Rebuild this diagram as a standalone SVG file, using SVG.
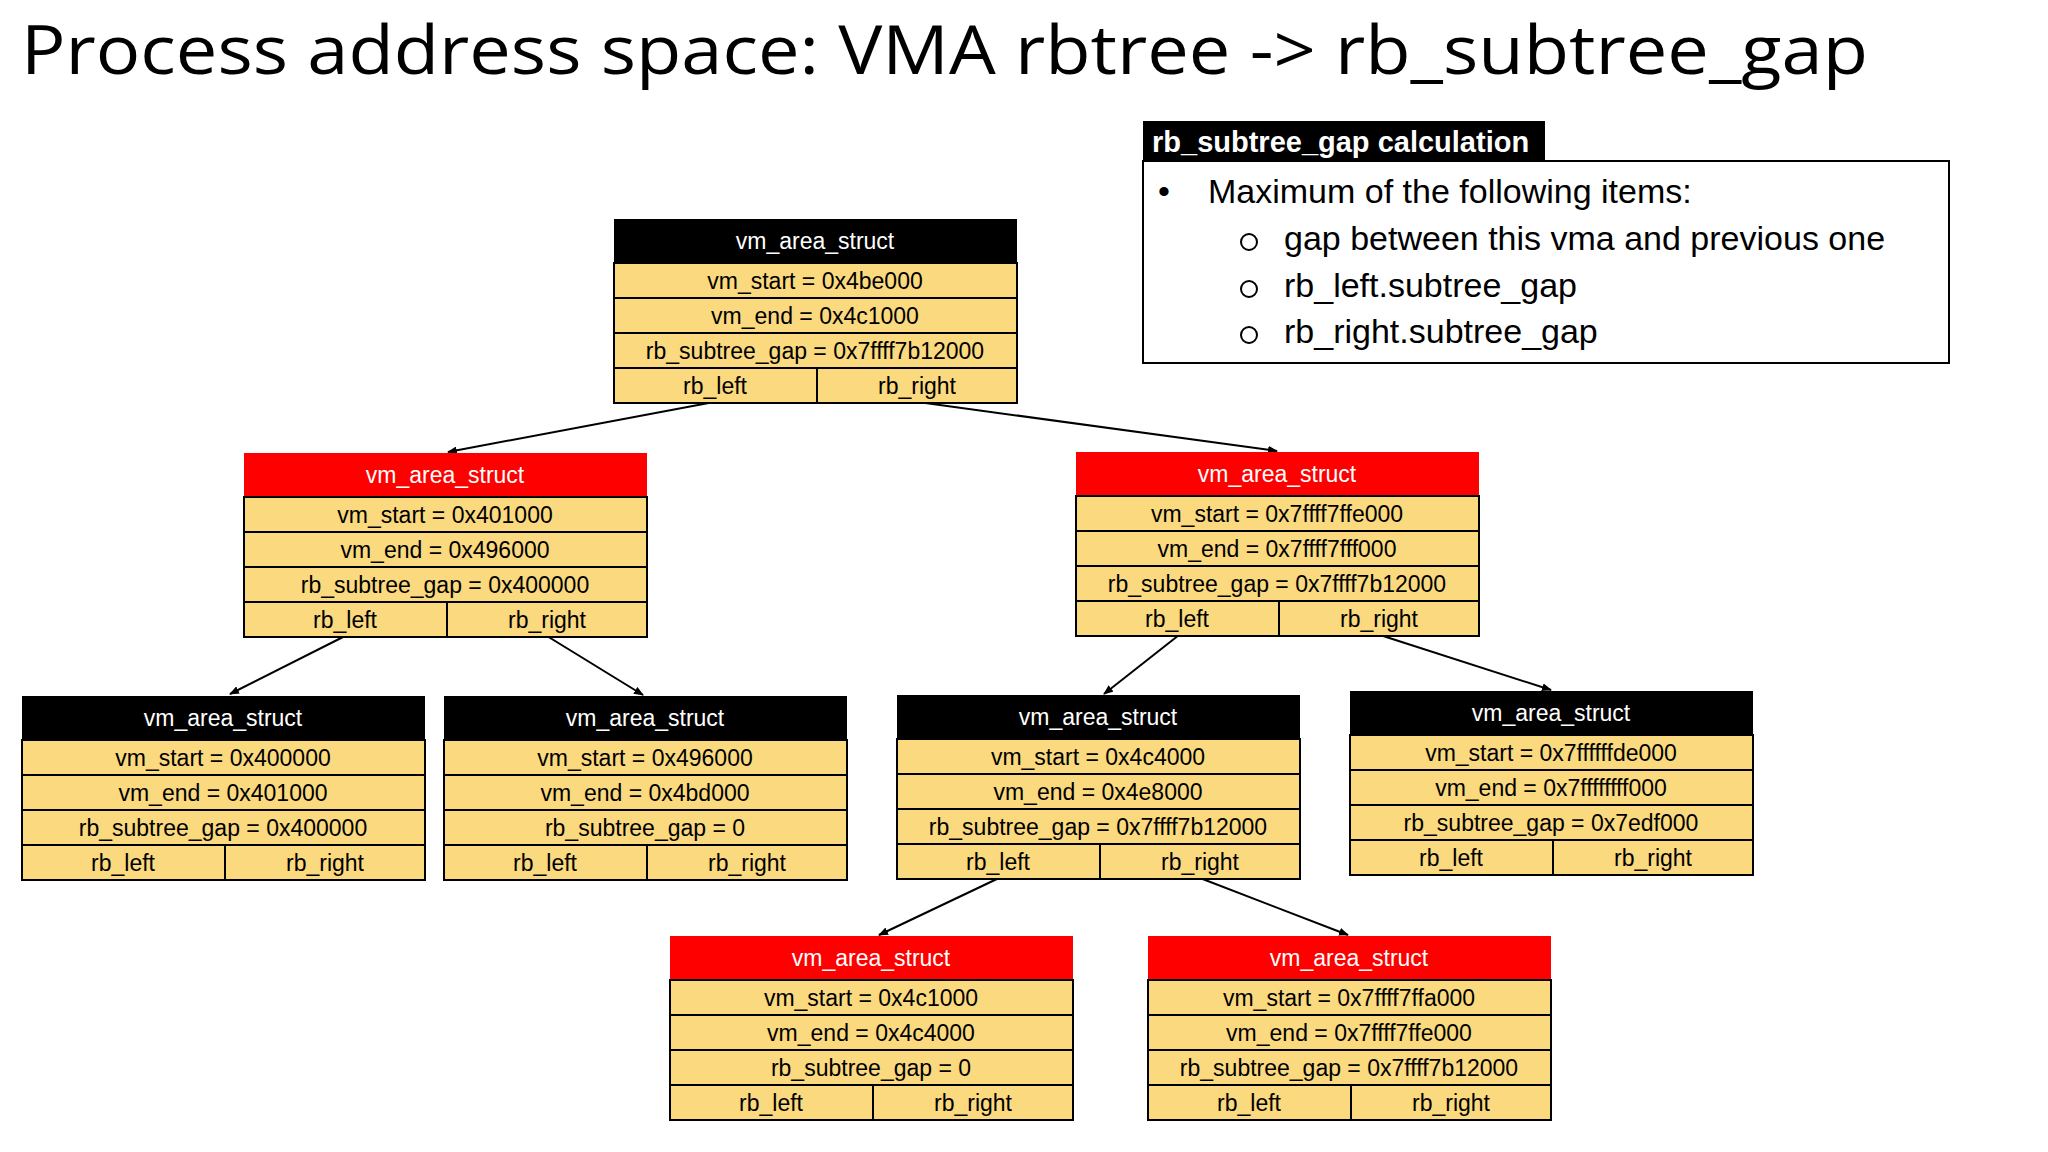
<svg xmlns="http://www.w3.org/2000/svg" width="2048" height="1152" viewBox="0 0 2048 1152">
<style>
.hb{fill:#000}.hr{fill:#f00}.row{fill:#fbd97e;stroke:#000;stroke-width:2}
.ht{fill:#fff;font-family:'Liberation Sans',Arial,sans-serif;font-size:23px;text-anchor:middle}
.t{fill:#000;font-family:'Liberation Sans',Arial,sans-serif;font-size:23px;text-anchor:middle}
.c{stroke:#000;stroke-width:2;fill:none;marker-end:url(#a)}
.b{font-family:'Liberation Sans',Arial,sans-serif;font-size:34px;fill:#000}
</style>
<defs>
<marker id="a" markerWidth="10" markerHeight="8" refX="9" refY="4" orient="auto" markerUnits="userSpaceOnUse"><path d="M0,0L10,4L0,8z"/></marker>
<g id="box">
<rect class="row" x="0" y="44" width="403" height="35"/>
<rect class="row" x="0" y="79" width="403" height="35"/>
<rect class="row" x="0" y="114" width="403" height="35"/>
<rect class="row" x="0" y="149" width="203" height="35"/>
<rect class="row" x="203" y="149" width="200" height="35"/>
<text class="t" x="101" y="175">rb_left</text>
<text class="t" x="303" y="175">rb_right</text>
</g>
</defs>
<rect width="2048" height="1152" fill="#fff"/>
<text x="21" y="74" font-family="'Open Sans','Liberation Sans',sans-serif" font-size="68" textLength="1847" lengthAdjust="spacingAndGlyphs">Process address space: VMA rbtree -&gt; rb_subtree_gap</text>

<g id="gapinfo">
<rect x="1143" y="161" width="806" height="202" fill="#fff" stroke="#000" stroke-width="2"/>
<rect x="1143" y="121" width="402" height="40" fill="#000"/>
<text x="1152" y="152" fill="#fff" font-family="'Liberation Sans',Arial,sans-serif" font-size="29" font-weight="bold">rb_subtree_gap calculation</text>
<text class="b" x="1158" y="203">•</text>
<text class="b" x="1208" y="203">Maximum of the following items:</text>
<circle cx="1249" cy="242" r="8" fill="none" stroke="#000" stroke-width="2"/>
<text class="b" x="1284" y="250">gap between this vma and previous one</text>
<circle cx="1249" cy="289" r="8" fill="none" stroke="#000" stroke-width="2"/>
<text class="b" x="1284" y="297">rb_left.subtree_gap</text>
<circle cx="1249" cy="335" r="8" fill="none" stroke="#000" stroke-width="2"/>
<text class="b" x="1284" y="343">rb_right.subtree_gap</text>
</g>

<g id="connectors">
<line class="c" x1="714" y1="402" x2="448" y2="452"/>
<line class="c" x1="918" y1="402" x2="1277" y2="451"/>
<line class="c" x1="345" y1="636" x2="230" y2="694"/>
<line class="c" x1="547" y1="636" x2="643" y2="695"/>
<line class="c" x1="1179" y1="635" x2="1104" y2="694"/>
<line class="c" x1="1380" y1="635" x2="1551" y2="690"/>
<line class="c" x1="999" y1="878" x2="879" y2="935"/>
<line class="c" x1="1200" y1="878" x2="1348" y2="935"/>
</g>

<g id="n0" transform="translate(614,219)"><rect class="hb" width="403" height="44"/><text class="ht" x="201" y="30">vm_area_struct</text><use href="#box"/><text class="t" x="201" y="70">vm_start = 0x4be000</text><text class="t" x="201" y="105">vm_end = 0x4c1000</text><text class="t" x="201" y="140">rb_subtree_gap = 0x7ffff7b12000</text></g>
<g id="n1" transform="translate(244,453)"><rect class="hr" width="403" height="44"/><text class="ht" x="201" y="30">vm_area_struct</text><use href="#box"/><text class="t" x="201" y="70">vm_start = 0x401000</text><text class="t" x="201" y="105">vm_end = 0x496000</text><text class="t" x="201" y="140">rb_subtree_gap = 0x400000</text></g>
<g id="n2" transform="translate(1076,452)"><rect class="hr" width="403" height="44"/><text class="ht" x="201" y="30">vm_area_struct</text><use href="#box"/><text class="t" x="201" y="70">vm_start = 0x7ffff7ffe000</text><text class="t" x="201" y="105">vm_end = 0x7ffff7fff000</text><text class="t" x="201" y="140">rb_subtree_gap = 0x7ffff7b12000</text></g>
<g id="n3" transform="translate(22,696)"><rect class="hb" width="403" height="44"/><text class="ht" x="201" y="30">vm_area_struct</text><use href="#box"/><text class="t" x="201" y="70">vm_start = 0x400000</text><text class="t" x="201" y="105">vm_end = 0x401000</text><text class="t" x="201" y="140">rb_subtree_gap = 0x400000</text></g>
<g id="n4" transform="translate(444,696)"><rect class="hb" width="403" height="44"/><text class="ht" x="201" y="30">vm_area_struct</text><use href="#box"/><text class="t" x="201" y="70">vm_start = 0x496000</text><text class="t" x="201" y="105">vm_end = 0x4bd000</text><text class="t" x="201" y="140">rb_subtree_gap = 0</text></g>
<g id="n5" transform="translate(897,695)"><rect class="hb" width="403" height="44"/><text class="ht" x="201" y="30">vm_area_struct</text><use href="#box"/><text class="t" x="201" y="70">vm_start = 0x4c4000</text><text class="t" x="201" y="105">vm_end = 0x4e8000</text><text class="t" x="201" y="140">rb_subtree_gap = 0x7ffff7b12000</text></g>
<g id="n6" transform="translate(1350,691)"><rect class="hb" width="403" height="44"/><text class="ht" x="201" y="30">vm_area_struct</text><use href="#box"/><text class="t" x="201" y="70">vm_start = 0x7ffffffde000</text><text class="t" x="201" y="105">vm_end = 0x7ffffffff000</text><text class="t" x="201" y="140">rb_subtree_gap = 0x7edf000</text></g>
<g id="n7" transform="translate(670,936)"><rect class="hr" width="403" height="44"/><text class="ht" x="201" y="30">vm_area_struct</text><use href="#box"/><text class="t" x="201" y="70">vm_start = 0x4c1000</text><text class="t" x="201" y="105">vm_end = 0x4c4000</text><text class="t" x="201" y="140">rb_subtree_gap = 0</text></g>
<g id="n8" transform="translate(1148,936)"><rect class="hr" width="403" height="44"/><text class="ht" x="201" y="30">vm_area_struct</text><use href="#box"/><text class="t" x="201" y="70">vm_start = 0x7ffff7ffa000</text><text class="t" x="201" y="105">vm_end = 0x7ffff7ffe000</text><text class="t" x="201" y="140">rb_subtree_gap = 0x7ffff7b12000</text></g>
</svg>
